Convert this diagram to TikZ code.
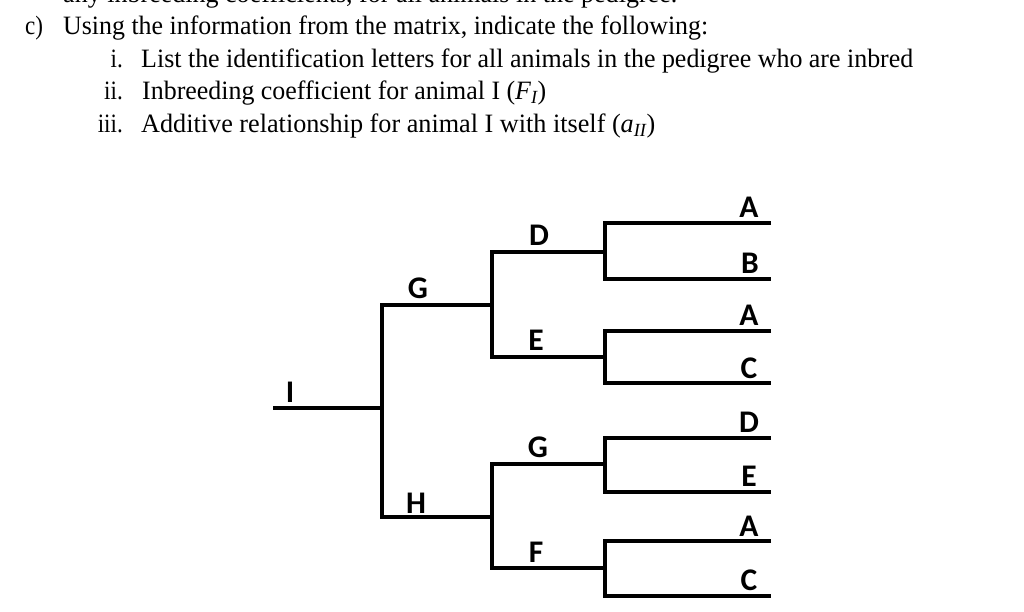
\documentclass[tikz,border=0pt]{standalone}
\usepackage{fontspec}
\setmainfont{Liberation Serif}
\newfontfamily\lblfont{Carlito}
\usepackage{graphicx}
\begin{document}
\begin{tikzpicture}[x=1pt,y=-1pt,
  qtext/.style={font=\fontsize{26.5}{30}\selectfont, inner sep=0pt, anchor=base west},
  qnum/.style={font=\fontsize{26.5}{30}\selectfont, inner sep=0pt, anchor=base east},
  lbl/.style={font=\lblfont\bfseries\fontsize{31.5}{32}\selectfont, inner sep=0pt, anchor=base},
  tree/.style={line width=3.2pt, line join=miter, black}]
\useasboundingbox (0,0) rectangle (1024,612);

% question text
\node[qtext] (l0) at (63,3) {\resizebox{614pt}{\height}{any inbreeding coefficients, for all animals in the pedigree.}};
\node[qtext] (c) at (25,35) {\scalebox{0.87}[1]{c)}};
\node[qtext] (l1) at (63,35) {\resizebox{645pt}{\height}{Using the information from the matrix, indicate the following:}};
\node[qnum] (n1) at (123,67.5) {\scalebox{0.87}[1]{i.}};
\node[qtext] (l2) at (141,67.5) {\resizebox{772pt}{\height}{List the identification letters for all animals in the pedigree who are inbred}};
\node[qnum] (n2) at (123,100) {\scalebox{0.87}[1]{ii.}};
\node[qtext] (l3) at (142,100) {\resizebox{404pt}{\height}{Inbreeding coefficient for animal I ({\itshape F}\textsubscript{\itshape I})}};
\node[qnum] (n3) at (123,132.5) {\scalebox{0.87}[1]{iii.}};
\node[qtext] (l4) at (141,132.5) {\resizebox{514pt}{\height}{Additive relationship for animal I with itself ({\itshape a}\textsubscript{\itshape II})}};

% tree coordinates
\coordinate (Is) at (273,408);
\coordinate (Ij) at (382,408);
\coordinate (Gt) at (382,305);
\coordinate (Hb) at (382,517);
\coordinate (Ge) at (492,305);
\coordinate (He) at (492,517);
\coordinate (Dt) at (492,252);
\coordinate (Eb) at (492,357);
\coordinate (De) at (605,252);
\coordinate (Ee) at (605,357);
\coordinate (G2t) at (492,464);
\coordinate (Fb) at (492,568);
\coordinate (G2e) at (605,464);
\coordinate (Fe) at (605,568);
% third generation
\coordinate (a1) at (605,223); \coordinate (a1e) at (771,223);
\coordinate (b1) at (605,279); \coordinate (b1e) at (771,279);
\coordinate (a2) at (605,331); \coordinate (a2e) at (771,331);
\coordinate (c2) at (605,383); \coordinate (c2e) at (771,383);
\coordinate (d3) at (605,438); \coordinate (d3e) at (771,438);
\coordinate (e3) at (605,492); \coordinate (e3e) at (771,492);
\coordinate (a4) at (605,541); \coordinate (a4e) at (771,541);
\coordinate (c4) at (605,596); \coordinate (c4e) at (771,596);

\draw[tree] (Is) -- (Ij);
\draw[tree] (Ge) -- (Gt) -- (Hb) -- (He);
\draw[tree] (De) -- (Dt) -- (Eb) -- (Ee);
\draw[tree] (G2e) -- (G2t) -- (Fb) -- (Fe);
\draw[tree] (a1e) -- (a1) -- (b1) -- (b1e);
\draw[tree] (a2e) -- (a2) -- (c2) -- (c2e);
\draw[tree] (d3e) -- (d3) -- (e3) -- (e3e);
\draw[tree] (a4e) -- (a4) -- (c4) -- (c4e);

% labels
\node[lbl] (tI) at (290,402) {I};
\node[lbl] (tG) at (418,298) {G};
\node[lbl] (tH) at (416,513) {H};
\node[lbl] (tD) at (539,245) {D};
\node[lbl] (tE) at (536,350) {E};
\node[lbl] (tG2) at (538,457) {G};
\node[lbl] (tF) at (536,562) {F};
\node[lbl] (rA1) at (749,218) {A};
\node[lbl] (rB1) at (750,273) {B};
\node[lbl] (rA2) at (749,325) {A};
\node[lbl] (rC2) at (749,378) {C};
\node[lbl] (rD3) at (749,432) {D};
\node[lbl] (rE3) at (749,486) {E};
\node[lbl] (rA4) at (749,536) {A};
\node[lbl] (rC4) at (749,590) {C};
\end{tikzpicture}
\end{document}
